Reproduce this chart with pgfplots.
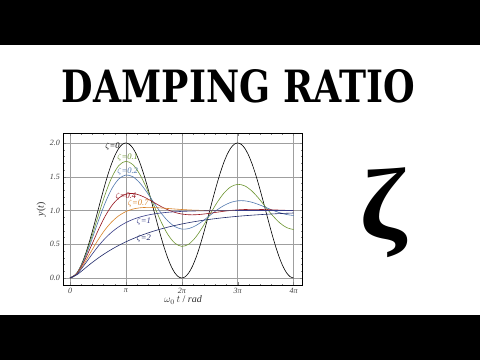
\documentclass[border=0pt]{standalone}
\usepackage{pgfplots}
\pgfplotsset{compat=1.18}
\usepackage{fontspec}
\setmainfont{Liberation Serif}
\newfontfamily\titlefont{DejaVu Serif}
\definecolor{zA}{RGB}{0,0,0}
\definecolor{zB}{RGB}{110,150,50}
\definecolor{zC}{RGB}{80,120,175}
\definecolor{zD}{RGB}{150,20,30}
\definecolor{zE}{RGB}{215,130,40}
\definecolor{zF}{RGB}{55,60,135}
\definecolor{zG}{RGB}{30,40,105}
\begin{document}
\begin{tikzpicture}[x=1pt,y=1pt]
\fill[white] (0,0) rectangle (480,360);
\fill[black] (0,315) rectangle (480,360);
\fill[black] (0,0) rectangle (480,45);
\node[inner sep=0pt] at (238.5,273.5) {\resizebox{353pt}{33pt}{\titlefont\bfseries DAMPING RATIO}};
\node[inner sep=0pt] at (383,147) {\resizebox*{47pt}{90pt}{\bfseries ζ}};
\begin{axis}[
  at={(63.3pt,75pt)}, anchor=south west, scale only axis,
  width=239.4pt, height=152pt,
  xmin=-0.12, xmax=4.163, ymin=-0.104, ymax=2.148,
  xtick={0,1,2,3,4}, xticklabels={0,π,2π,3π,4π},
  ytick={0,0.5,1,1.5,2},
  minor x tick num=4, minor y tick num=4,
  /pgf/number format/assume math mode=true,
  yticklabel style={/pgf/number format/.cd, fixed, fixed zerofill, precision=1},
  tick label style={font=\fontsize{8}{9}\selectfont\itshape, text=black!75},
  major tick length=3pt, minor tick length=1.5pt,
  grid=major, major grid style={gray!75, line width=0.45pt},
  axis line style={black, line width=0.5pt},
  xlabel={$\omega_0\,t$ / \textit{rad}},
  ylabel={\textit{y}(\textit{t})},
  label style={font=\fontsize{10}{11}\selectfont, text=black!80},
  xlabel style={yshift=5pt},
  ylabel style={yshift=-3pt},
  every axis plot/.append style={line width=0.6pt, smooth, no markers},
]
\addplot[zA] coordinates {(0,0) (0.0625,0.0192) (0.125,0.0761) (0.1875,0.1685) (0.25,0.2929) (0.3125,0.4444) (0.375,0.6173) (0.4375,0.8049) (0.5,1) (0.5625,1.1951) (0.625,1.3827) (0.6875,1.5556) (0.75,1.7071) (0.8125,1.8315) (0.875,1.9239) (0.9375,1.9808) (1,2) (1.0625,1.9808) (1.125,1.9239) (1.1875,1.8315) (1.25,1.7071) (1.3125,1.5556) (1.375,1.3827) (1.4375,1.1951) (1.5,1) (1.5625,0.8049) (1.625,0.6173) (1.6875,0.4444) (1.75,0.2929) (1.8125,0.1685) (1.875,0.0761) (1.9375,0.0192) (2,0) (2.0625,0.0192) (2.125,0.0761) (2.1875,0.1685) (2.25,0.2929) (2.3125,0.4444) (2.375,0.6173) (2.4375,0.8049) (2.5,1) (2.5625,1.1951) (2.625,1.3827) (2.6875,1.5556) (2.75,1.7071) (2.8125,1.8315) (2.875,1.9239) (2.9375,1.9808) (3,2) (3.0625,1.9808) (3.125,1.9239) (3.1875,1.8315) (3.25,1.7071) (3.3125,1.5556) (3.375,1.3827) (3.4375,1.1951) (3.5,1) (3.5625,0.8049) (3.625,0.6173) (3.6875,0.4444) (3.75,0.2929) (3.8125,0.1685) (3.875,0.0761) (3.9375,0.0192) (4,0)};
\addplot[zB] coordinates {(0,0) (0.125,0.0742) (0.25,0.2783) (0.375,0.5726) (0.5,0.9074) (0.625,1.2304) (0.75,1.4952) (0.875,1.6676) (1,1.7292) (1.125,1.6793) (1.25,1.5338) (1.375,1.3211) (1.5,1.0775) (1.625,0.8409) (1.75,0.6455) (1.875,0.5167) (2,0.4685) (2.125,0.5017) (2.25,0.6053) (2.375,0.7590) (2.5,0.9363) (2.625,1.1095) (2.75,1.2536) (2.875,1.3497) (3,1.3874) (3.125,1.3654) (3.25,1.2917) (3.375,1.1807) (3.5,1.0518) (3.625,0.9249) (3.75,0.8187) (3.875,0.7470) (4,0.7178)};
\addplot[zC] coordinates {(0,0) (0.125,0.0723) (0.25,0.2648) (0.375,0.5329) (0.5,0.8278) (0.625,1.1041) (0.75,1.3256) (0.875,1.4690) (1,1.5255) (1.125,1.4997) (1.25,1.4073) (1.375,1.2709) (1.5,1.1162) (1.625,0.9676) (1.75,0.8452) (1.875,0.7623) (2,0.7250) (2.125,0.7319) (2.25,0.7755) (2.375,0.8444) (2.5,0.9252) (2.625,1.0048) (2.75,1.0722) (2.875,1.1196) (3,1.1432) (3.125,1.1433) (3.25,1.1231) (3.375,1.0885) (3.5,1.0465) (3.625,1.0041) (3.75,0.9672) (3.875,0.9403) (4,0.9257)};
\addplot[zD] coordinates {(0,0) (0.125,0.0688) (0.25,0.2406) (0.375,0.4654) (0.5,0.6994) (0.625,0.9096) (0.75,1.0749) (0.875,1.1859) (1,1.2427) (1.125,1.2524) (1.25,1.2266) (1.375,1.1781) (1.5,1.1194) (1.625,1.0609) (1.75,1.0103) (1.875,0.9719) (2,0.9476) (2.125,0.9367) (2.25,0.9370) (2.375,0.9454) (2.5,0.9587) (2.625,0.9738) (2.75,0.9883) (2.875,1.0004) (3,1.0092) (3.125,1.0144) (3.25,1.0163) (3.375,1.0156) (3.5,1.0130) (3.625,1.0095) (3.75,1.0056) (3.875,1.0021) (4,0.9992)};
\addplot[zE] coordinates {(0,0) (0.125,0.0639) (0.25,0.2105) (0.375,0.3875) (0.5,0.5614) (0.625,0.7131) (0.75,0.8343) (0.875,0.9236) (1,0.9841) (1.125,1.0209) (1.25,1.0396) (1.375,1.0458) (1.5,1.0440) (1.625,1.0378) (1.75,1.0298) (1.875,1.0217) (2,1.0145) (2.125,1.0086) (2.25,1.0042) (2.375,1.0012) (2.5,0.9993) (2.625,0.9983) (2.75,0.9979) (2.875,0.9979) (3,0.9982) (3.125,0.9986) (3.25,0.9990) (3.375,0.9994) (3.5,0.9997) (3.625,1.0) (3.75,1.0) (3.875,1.0) (4,1.0)};
\addplot[zF] coordinates {(0,0) (0.125,0.0596) (0.25,0.1860) (0.375,0.3294) (0.5,0.4656) (0.625,0.5840) (0.75,0.6819) (0.875,0.7601) (1,0.8210) (1.125,0.8677) (1.25,0.9029) (1.375,0.9292) (1.5,0.9487) (1.625,0.9630) (1.75,0.9734) (1.875,0.9809) (2,0.9864) (2.125,0.9903) (2.25,0.9931) (2.375,0.9951) (2.5,0.9966) (2.625,0.9976) (2.75,0.9983) (2.875,0.9988) (3,0.9992) (3.125,0.9994) (3.25,0.9996) (3.375,0.9997) (3.5,0.9998) (3.625,0.9999) (3.75,0.9999) (3.875,1.0) (4,1.0)};
\addplot[zG] coordinates {(0,0) (0.125,0.0481) (0.25,0.1312) (0.375,0.2152) (0.5,0.2930) (0.625,0.3634) (0.75,0.4270) (0.875,0.4842) (1,0.5357) (1.125,0.5821) (1.25,0.6238) (1.375,0.6614) (1.5,0.6952) (1.625,0.7256) (1.75,0.7530) (1.875,0.7777) (2,0.7999) (2.125,0.8199) (2.25,0.8379) (2.375,0.8541) (2.5,0.8686) (2.625,0.8818) (2.75,0.8936) (2.875,0.9042) (3,0.9138) (3.125,0.9224) (3.25,0.9301) (3.375,0.9371) (3.5,0.9434) (3.625,0.9490) (3.75,0.9541) (3.875,0.9587) (4,0.9628)};
\begin{scope}[every node/.style={font=\fontsize{8.5}{9}\selectfont\itshape, inner sep=0pt}]
\node[text=zA] at (axis cs:0.76,1.945) {$\zeta$=0};
\node[text=zB] at (axis cs:1.03,1.78) {$\zeta$=0.1};
\node[text=zC] at (axis cs:1.03,1.585) {$\zeta$=0.2};
\node[text=zD] at (axis cs:1.00,1.215) {$\zeta$=0.4};
\node[text=zE] at (axis cs:1.22,1.10) {$\zeta$=0.7};
\node[text=zF] at (axis cs:1.32,0.83) {$\zeta$=1};
\node[text=zG] at (axis cs:1.32,0.59) {$\zeta$=2};
\end{scope}
\end{axis}
\end{tikzpicture}
\end{document}
